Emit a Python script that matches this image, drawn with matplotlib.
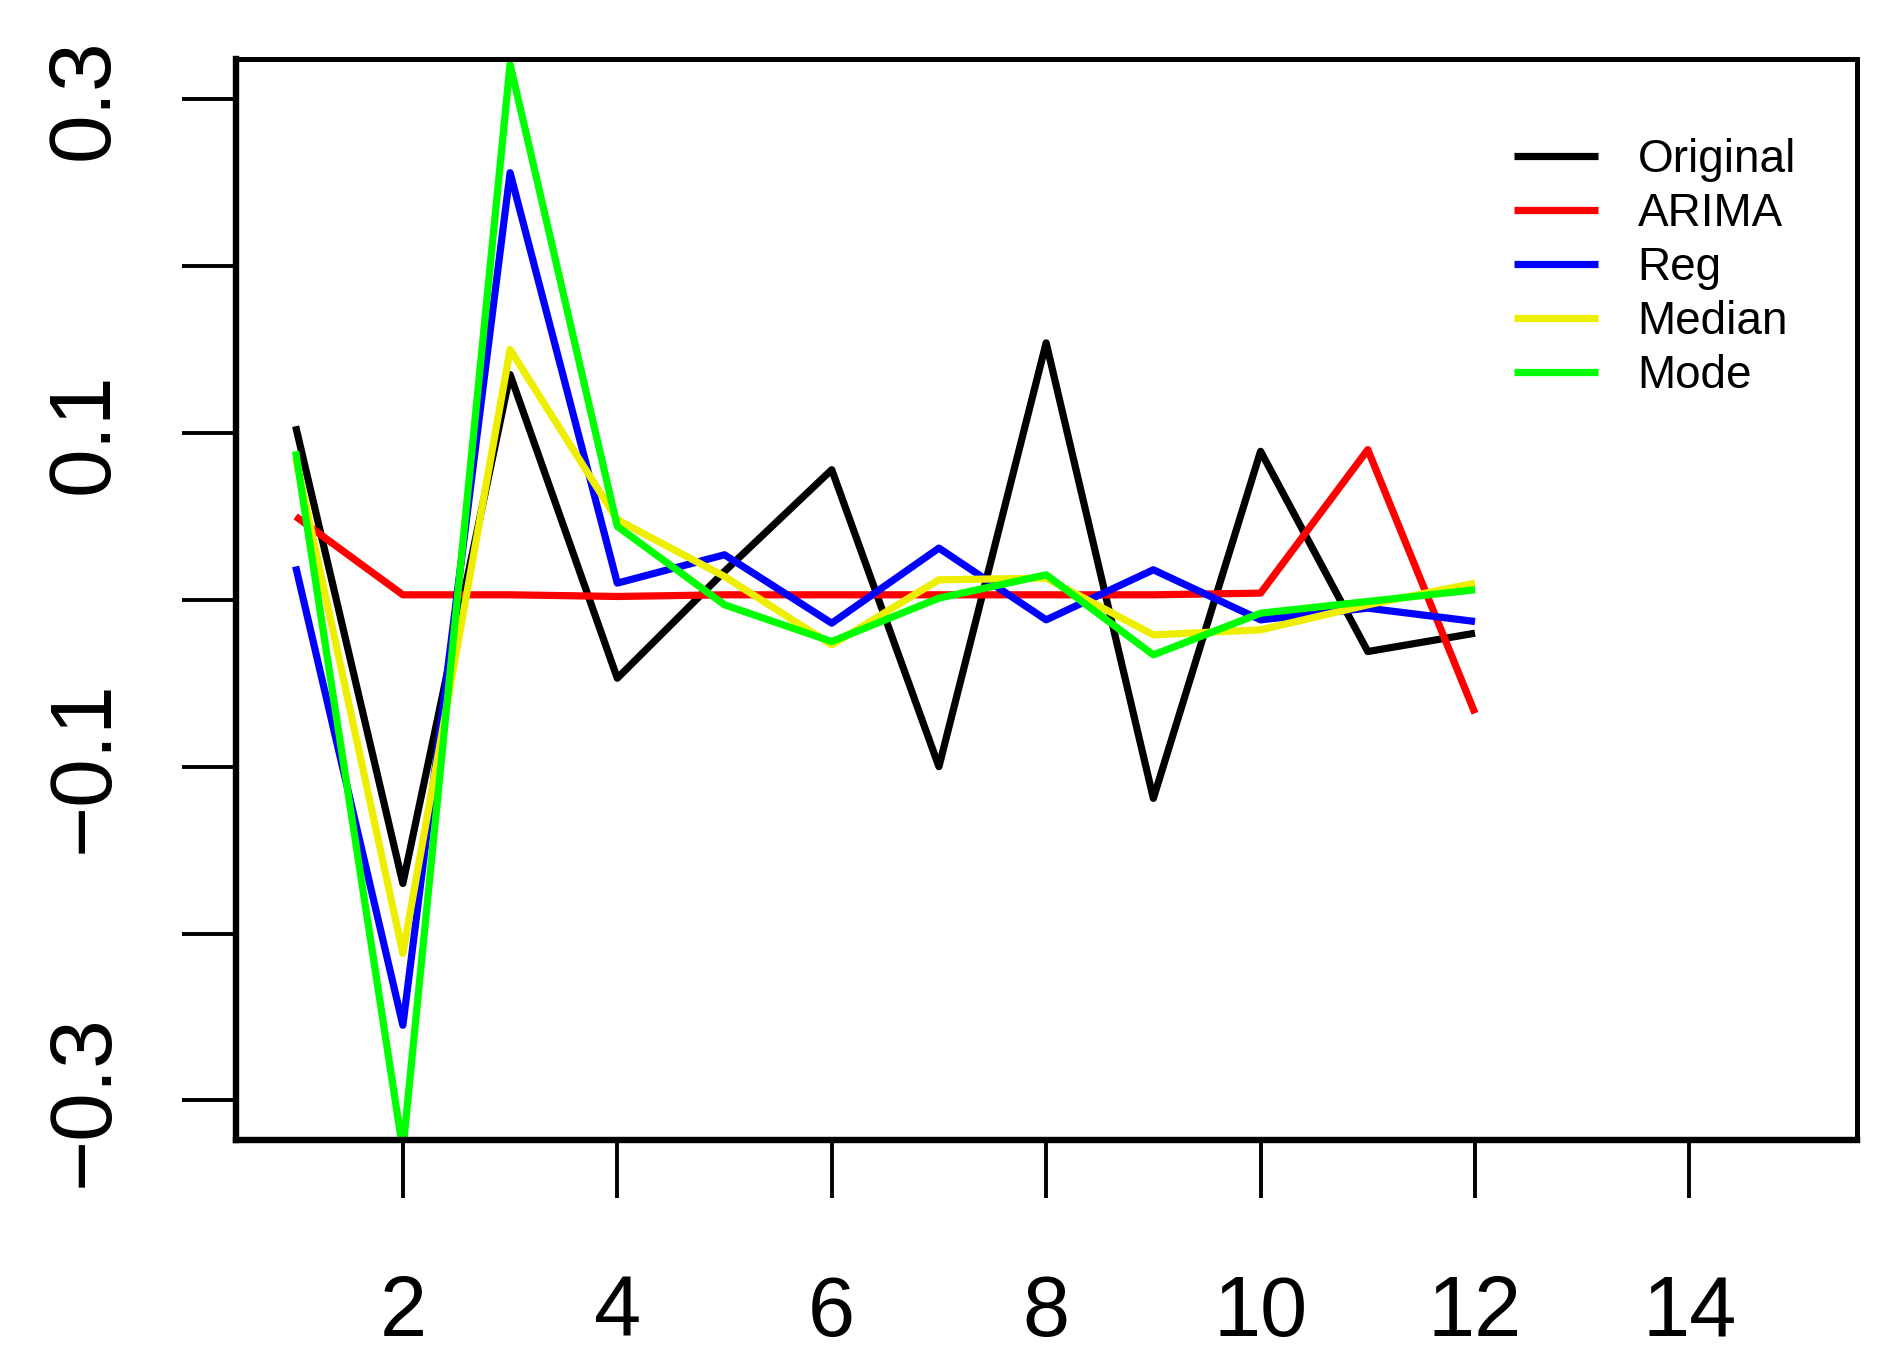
import matplotlib
matplotlib.use("Agg")
import matplotlib.pyplot as plt
import numpy as np

plt.rcParams['font.family'] = ['Liberation Sans', 'DejaVu Sans']

# values
steps = np.arange(1, 13)
original = [0.104, -0.170, 0.135, -0.047, 0.017, 0.078, -0.100, 0.154, -0.119, 0.089, -0.031, -0.020]
arima = [0.050, 0.003, 0.003, 0.002, 0.003, 0.003, 0.003, 0.003, 0.003, 0.004, 0.090, -0.068]
reg = [0.020, -0.255, 0.256, 0.010, 0.027, -0.014, 0.031, -0.012, 0.018, -0.012, -0.005, -0.013]
median = [0.085, -0.212, 0.150, 0.048, 0.014, -0.027, 0.012, 0.013, -0.021, -0.018, -0.003, 0.010]
mode = [0.089, -0.330, 0.321, 0.044, -0.003, -0.025, 0.001, 0.015, -0.033, -0.008, -0.001, 0.006]

series = [original, arima, reg, median, mode]
names = ['Original', 'ARIMA', 'Reg', 'Median', 'Mode']
colors = ['#000000', '#FF0000', '#0000FF', '#EEEE00', '#00FF00']

xticks = [2, 4, 6, 8, 10, 12, 14]
yticks = [-0.3, -0.2, -0.1, 0.0, 0.1, 0.2, 0.3]
ytick_labels = ['\u22120.3', '', '\u22120.1', '', '0.1', '', '0.3']

fig = plt.figure(figsize=(18.94, 13.71), dpi=100)
ax = fig.add_axes([0.1244, 0.1682, 0.8559, 0.7886])

for vals, name, col in zip(series, names, colors):
    ax.plot(steps, vals, color=col, lw=5.2, label=name, solid_capstyle='butt')

ax.set_xlim(0.44, 15.56)
ax.set_ylim(-0.324, 0.324)

ax.set_xticks(xticks)
ax.set_xticklabels([str(t) for t in xticks], fontsize=61)
ax.set_yticks(yticks)
ax.set_yticklabels(ytick_labels, fontsize=63, rotation=90, va='center')

ax.tick_params(axis='x', length=42, width=2.8, pad=54)
ax.tick_params(axis='y', length=39, width=2.8, pad=40)

for side in ['top', 'right']:
    ax.spines[side].set_linewidth(3.6)
for side in ['left', 'bottom']:
    ax.spines[side].set_linewidth(4.6)

ax.legend(loc='upper left', bbox_to_anchor=(0.7884, 0.9275), frameon=False,
          fontsize=33, handlelength=1.85, handletextpad=0.85, labelspacing=0.22,
          borderpad=0, borderaxespad=0)

fig.savefig('out.png', dpi=100)
